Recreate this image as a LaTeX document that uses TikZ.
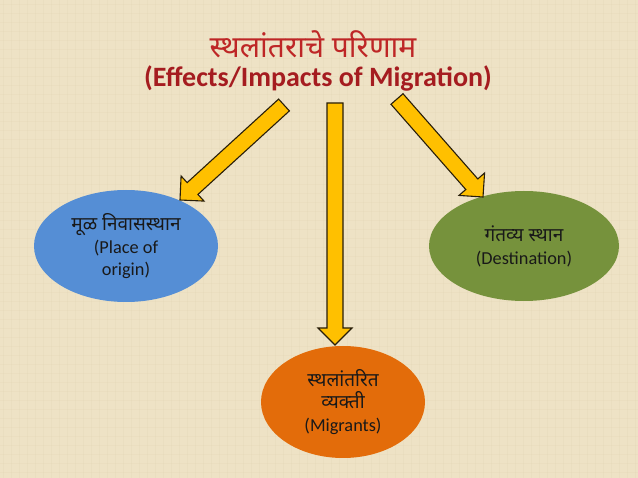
\documentclass[tikz,border=0pt]{standalone}
\usepackage{fontspec}
\setmainfont{Carlito}
\newfontfamily\deva[Script=Devanagari]{Noto Sans}
\usetikzlibrary{calc,shapes.geometric}
\definecolor{bgbeige}{RGB}{238,226,197}
\definecolor{texline}{RGB}{220,205,170}
\definecolor{titlered}{RGB}{190,38,38}
\definecolor{subred}{RGB}{165,28,32}
\definecolor{arrfill}{RGB}{255,192,0}
\definecolor{arrline}{RGB}{40,30,10}
\definecolor{blueell}{RGB}{85,142,213}
\definecolor{greenell}{RGB}{118,146,60}
\definecolor{orangeell}{RGB}{227,108,10}
\definecolor{ink}{RGB}{25,25,25}
\newcommand\dv[1]{{\deva\fontsize{19}{23}\selectfont #1}}
\tikzset{
  blob/.style={ellipse, inner sep=0pt, align=center, text=ink, font=\fontsize{18.3}{22}\selectfont},
  blockarr/.style={fill=arrfill, draw=arrline, line width=1.1pt, line join=miter},
}
\newcommand\blockarrow[2]{%
  \coordinate (hb) at ($(#2)!17pt!(#1)$);
  \draw[blockarr]
    ($(#1)!8pt!90:(#2)$) -- ($(hb)!8pt!-90:(#1)$) -- ($(hb)!17pt!-90:(#1)$) -- (#2)
    -- ($(hb)!17pt!90:(#1)$) -- ($(hb)!8pt!90:(#1)$) -- ($(#1)!8pt!-90:(#2)$) -- cycle;
}
\begin{document}
\begin{tikzpicture}[x=1pt,y=-1pt]
  \fill[bgbeige] (0,0) rectangle (638,478);
  \useasboundingbox (0,0) rectangle (638,478);
  % faint texture
  \foreach \i in {3,11,...,638} {\draw[texline, opacity=0.18, line width=0.6pt] (\i,0) -- (\i,478);}
  \foreach \j in {4,13,...,478} {\draw[texline, opacity=0.15, line width=0.6pt] (0,\j) -- (638,\j);}

  \node[text=titlered, font=\deva\fontsize{30}{34}\selectfont] (title) at (313,44) {स्थलांतराचे परिणाम};
  \node[text=subred, font=\bfseries\fontsize{28}{32}\selectfont] (subtitle) at (318,78) {(Effects/Impacts of Migration)};

  \node[blob, fill=blueell, minimum width=184pt, minimum height=112pt] (origin) at (126,246)
    {\dv{मूळ निवासस्थान}\\[1pt](Place of\\origin)};
  \node[blob, fill=greenell, minimum width=190pt, minimum height=110pt] (dest) at (524,246)
    {\dv{गंतव्य स्थान}\\[1pt](Destination)};
  \node[blob, fill=orangeell, minimum width=164pt, minimum height=112pt] (migr) at (343,402)
    {\dv{स्थलांतरित}\\\dv{व्यक्ती}\\[1pt](Migrants)};

  \coordinate (lt) at (284,105);
  \coordinate (lh) at (180,200);
  \coordinate (ct) at (335,103);
  \coordinate (ch) at (335,345);
  \coordinate (rt) at (397,99);
  \coordinate (rh) at (483,197);
  \blockarrow{lt}{lh}
  \blockarrow{ct}{ch}
  \blockarrow{rt}{rh}
\end{tikzpicture}
\end{document}
